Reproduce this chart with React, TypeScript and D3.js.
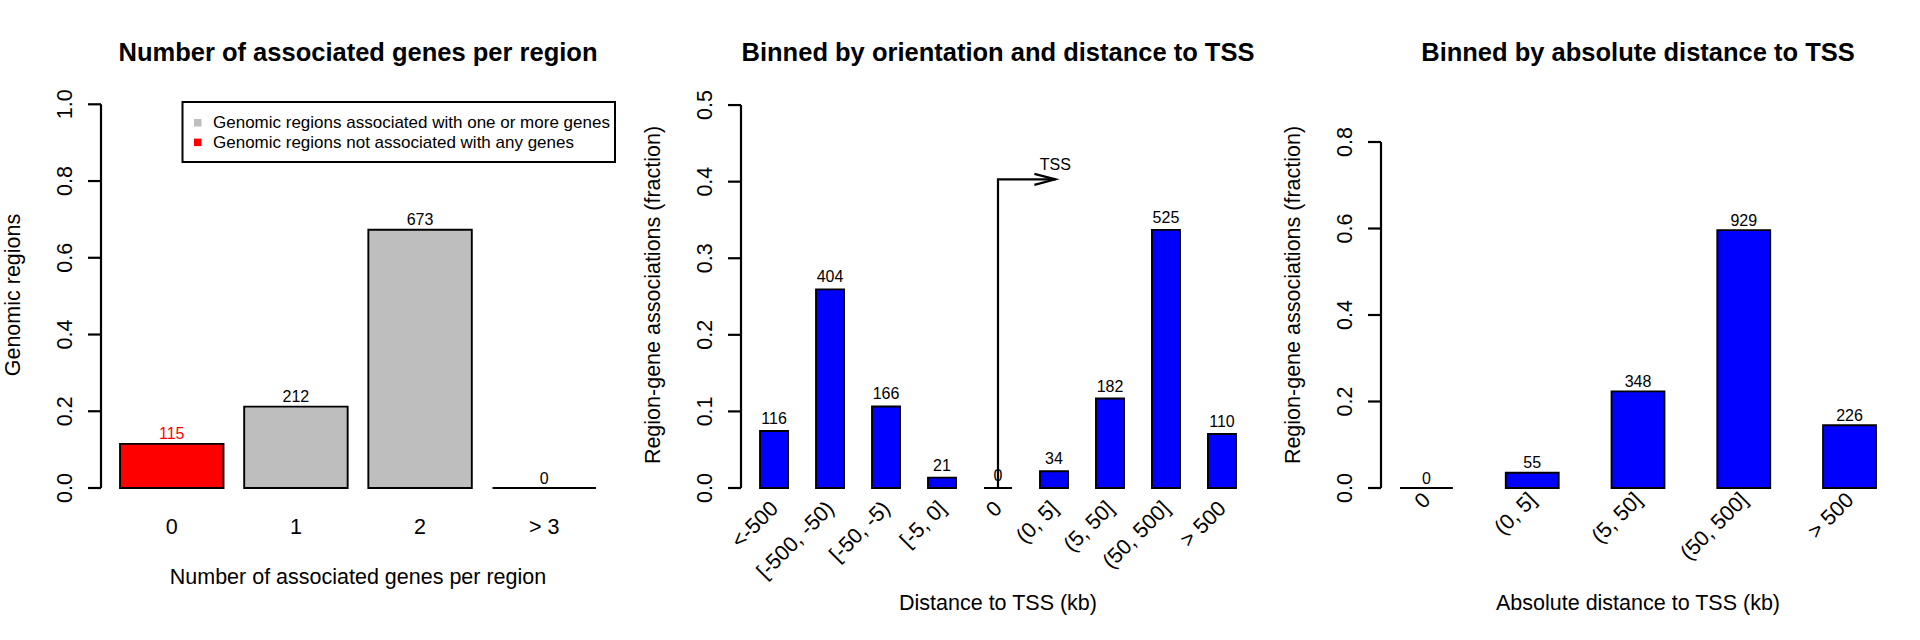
import React from 'react';
import { scaleLinear } from 'd3';

// panel 1: number of associated genes per region
const geneCategories = ['0', '1', '2', '> 3'];
const geneCounts = [115, 212, 673, 0];
const geneFractions = [0.115, 0.212, 0.673, 0];
const geneFills = ['#FF0000', '#BEBEBE', '#BEBEBE', '#BEBEBE'];
const geneLabelColors = ['#FF0000', '#000000', '#000000', '#000000'];
const geneTicks = [0, 0.2, 0.4, 0.6, 0.8, 1.0];

const legendLabels = [
  'Genomic regions associated with one or more genes',
  'Genomic regions not associated with any genes',
];
const legendColors = ['#BEBEBE', '#FF0000'];

// panel 2: binned by orientation and distance to TSS
const tssBins = ['<-500', '[-500, -50)', '[-50, -5)', '[-5, 0]', '0', '(0, 5]', '(5, 50]', '(50, 500]', '> 500'];
const tssCounts = [116, 404, 166, 21, 0, 34, 182, 525, 110];
const tssFractions = [0.0745, 0.2593, 0.1065, 0.0135, 0, 0.0218, 0.1168, 0.337, 0.0706];
const tssTicks = [0, 0.1, 0.2, 0.3, 0.4, 0.5];
const tssArrowHeight = 0.403;
const tssArrowReach = 2.05;

// panel 3: binned by absolute distance to TSS
const absBins = ['0', '(0, 5]', '(5, 50]', '(50, 500]', '> 500'];
const absCounts = [0, 55, 348, 929, 226];
const absFractions = [0, 0.0353, 0.2234, 0.5963, 0.1451];
const absTicks = [0, 0.2, 0.4, 0.6, 0.8];

const width = 1920;
const height = 640;
const panelWidth = 640;
const plotLeft = 101;
const plotRight = 615;
const plotTop = 102;
const plotBottom = 488;

const font = '"Liberation Sans", Arial, Helvetica, sans-serif';
const axisSize = 21.5;
const titleSize = 25.5;
const valueSize = 16;

type PanelProps = {
  index: number;
  title: string;
  xTitle: string;
  yTitle: string;
  categories: string[];
  counts: number[];
  fractions: number[];
  fills: string[];
  labelColors: string[];
  ticks: number[];
  yMax: number;
  space: number;
  rotate: boolean;
  labelY: number;
  xTitleY: number;
  valueGap: number;
  children?: (x: (v: number) => number, y: (v: number) => number, center: (i: number) => number) => React.ReactNode;
};

function BarPanel(p: PanelProps) {
  const ox = p.index * panelWidth;
  const n = p.categories.length;
  const lo = p.space;
  const hi = n * (1 + p.space);
  const pad = (hi - lo) * 0.04;
  const x = scaleLinear().domain([lo - pad, hi + pad]).range([ox + plotLeft, ox + plotRight]);
  const y = scaleLinear().domain([0, p.yMax]).range([plotBottom, plotTop]);
  const left = (i: number) => p.space + i * (1 + p.space);
  const center = (i: number) => x(left(i) + 0.5);
  const midX = ox + (plotLeft + plotRight) / 2;
  const midY = (plotTop + plotBottom) / 2;
  const axisX = ox + plotLeft;

  return (
    <g fontFamily={font}>
      <text x={midX} y={61} textAnchor="middle" fontWeight="bold" fontSize={titleSize}>
        {p.title}
      </text>

      {/* y axis */}
      <line x1={axisX} x2={axisX} y1={y(p.ticks[0])} y2={y(p.ticks[p.ticks.length - 1])} stroke="#000" strokeWidth={2.2} />
      {p.ticks.map(t => (
        <g key={t}>
          <line x1={axisX - 13} x2={axisX} y1={y(t)} y2={y(t)} stroke="#000" strokeWidth={2.2} />
          <text
            transform={`translate(${axisX - 29}, ${y(t)}) rotate(-90)`}
            textAnchor="middle"
            fontSize={axisSize}
          >
            {t.toFixed(1)}
          </text>
        </g>
      ))}
      <text transform={`translate(${axisX - 81}, ${midY}) rotate(-90)`} textAnchor="middle" fontSize={axisSize}>
        {p.yTitle}
      </text>

      {/* bars */}
      {p.fractions.map((f, i) => {
        const x0 = x(left(i));
        const x1 = x(left(i) + 1);
        const y0 = y(0);
        const y1 = y(f);
        return (
          <g key={i}>
            <path
              d={`M${x0},${y0}H${x1}V${y1}H${x0}Z`}
              fill={p.fills[i]}
              stroke="#000"
              strokeWidth={1.9}
            />
            <text x={center(i)} y={y1 - p.valueGap} textAnchor="middle" fontSize={valueSize} fill={p.labelColors[i]}>
              {p.counts[i]}
            </text>
          </g>
        );
      })}

      {/* category labels */}
      {p.categories.map((c, i) =>
        p.rotate ? (
          <text
            key={c}
            transform={`translate(${center(i)}, ${p.labelY}) rotate(-45)`}
            textAnchor="end"
            dy="0.35em"
            fontSize={axisSize}
          >
            {c}
          </text>
        ) : (
          <text key={c} x={center(i)} y={p.labelY} textAnchor="middle" fontSize={axisSize}>
            {c}
          </text>
        )
      )}

      <text x={midX} y={p.xTitleY} textAnchor="middle" fontSize={axisSize}>
        {p.xTitle}
      </text>

      {p.children && p.children(x, y, center)}
    </g>
  );
}

function App() {
  const legendLeft = 182.5;
  const legendRight = plotRight;

  return (
    <svg width={width} height={height} style={{ position: 'absolute', left: 0, top: 0, background: '#fff' }}>
      <rect width={width} height={height} fill="#fff" />

      <BarPanel
        index={0}
        title="Number of associated genes per region"
        xTitle="Number of associated genes per region"
        yTitle="Genomic regions"
        categories={geneCategories}
        counts={geneCounts}
        fractions={geneFractions}
        fills={geneFills}
        labelColors={geneLabelColors}
        ticks={geneTicks}
        yMax={1.006}
        space={0.2}
        rotate={false}
        labelY={534}
        xTitleY={584}
        valueGap={4.5}
      >
        {() => (
          <g fontFamily={font}>
            <rect
              x={legendLeft}
              y={plotTop}
              width={legendRight - legendLeft}
              height={60}
              fill="#fff"
              stroke="#000"
              strokeWidth={2}
            />
            {legendLabels.map((l, i) => (
              <g key={l}>
                <rect x={194} y={119 + i * 19.6} width={7.5} height={7.5} fill={legendColors[i]} />
                <text x={213} y={128.4 + i * 19.8} fontSize={17}>
                  {l}
                </text>
              </g>
            ))}
          </g>
        )}
      </BarPanel>

      <BarPanel
        index={1}
        title="Binned by orientation and distance to TSS"
        xTitle="Distance to TSS (kb)"
        yTitle="Region-gene associations (fraction)"
        categories={tssBins}
        counts={tssCounts}
        fractions={tssFractions}
        fills={tssBins.map(() => '#0000FF')}
        labelColors={tssBins.map(() => '#000000')}
        ticks={tssTicks}
        yMax={0.504}
        space={1}
        rotate={true}
        labelY={504.5}
        xTitleY={610}
        valueGap={7}
      >
        {(x, y, center) => {
          const cx = center(tssBins.indexOf('0'));
          const ay = y(tssArrowHeight);
          const tip = cx + (x(tssArrowReach) - x(0));
          return (
            <g>
              <path d={`M${cx},${y(0)}V${ay}H${tip}`} fill="none" stroke="#000" strokeWidth={2.2} />
              <path d={`M${tip - 21},${ay - 5.5}L${tip},${ay}L${tip - 21},${ay + 5.5}`} fill="none" stroke="#000" strokeWidth={2.2} />
              <text x={tip} y={ay - 9} textAnchor="middle" fontSize={valueSize} fontFamily={font}>
                TSS
              </text>
            </g>
          );
        }}
      </BarPanel>

      <BarPanel
        index={2}
        title="Binned by absolute distance to TSS"
        xTitle="Absolute distance to TSS (kb)"
        yTitle="Region-gene associations (fraction)"
        categories={absBins}
        counts={absCounts}
        fractions={absFractions}
        fills={absBins.map(() => '#0000FF')}
        labelColors={absBins.map(() => '#000000')}
        ticks={absTicks}
        yMax={0.8925}
        space={1}
        rotate={true}
        labelY={496}
        xTitleY={610}
        valueGap={4.3}
      />
    </svg>
  );
}

export default App;
